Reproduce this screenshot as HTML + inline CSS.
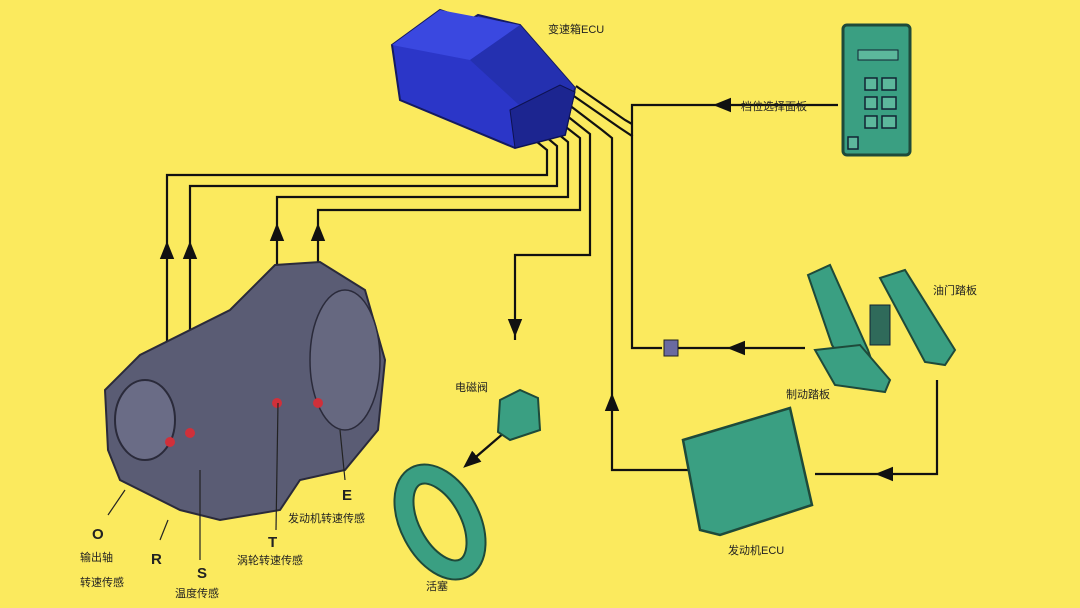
<!DOCTYPE html>
<html><head><meta charset="utf-8"><style>
html,body{margin:0;padding:0;background:#fbea5e;}
svg{display:block}
text{font-family:"Liberation Sans","Noto Sans CJK SC",sans-serif;fill:#222;}
.l{font-size:11px}
.b{font-size:15px;font-weight:bold}
</style></head><body>
<svg width="1080" height="608" viewBox="0 0 1080 608" xmlns="http://www.w3.org/2000/svg">
<rect width="1080" height="608" fill="#fbea5e"/>
<defs>
<marker id="a" viewBox="0 0 10 10" refX="5" refY="5" markerWidth="9" markerHeight="9" orient="auto-start-reverse"><path d="M0,1 L10,5 L0,9 z" fill="#111"/></marker>
</defs>
<g stroke="#111" stroke-width="2.2" fill="none">
<path d="M520,128 L547,150 L547,175 L167,175 L167,440"/>
<path d="M528,122 L557,146 L557,186 L190,186 L190,432"/>
<path d="M536,116 L568,142 L568,197 L277,197 L277,402"/>
<path d="M544,110 L580,138 L580,210 L318,210 L318,402"/>
<path d="M552,104 L590,134 L590,255 L515,255 L515,340"/>
<path d="M560,98 L602,130 L612,138 L612,470 L690,470"/>
<path d="M568,92 L620,128 L632,136 L632,348 L662,348"/>
<path d="M576,86 L625,120 L632,124"/>
<path d="M632,136 L632,105 L838,105"/>
<path d="M678,348 L805,348"/>
<path d="M937,380 L937,474 L815,474"/>
<path d="M505,432 L470,462"/>
</g>
<g stroke="#111" stroke-width="2">
<line x1="167" y1="270" x2="167" y2="250" marker-end="url(#a)"/>
<line x1="190" y1="270" x2="190" y2="250" marker-end="url(#a)"/>
<line x1="277" y1="250" x2="277" y2="232" marker-end="url(#a)"/>
<line x1="318" y1="250" x2="318" y2="232" marker-end="url(#a)"/>
<line x1="515" y1="310" x2="515" y2="328" marker-end="url(#a)"/>
<line x1="612" y1="420" x2="612" y2="402" marker-end="url(#a)"/>
<line x1="760" y1="348" x2="736" y2="348" marker-end="url(#a)"/>
<line x1="745" y1="105" x2="722" y2="105" marker-end="url(#a)"/>
<line x1="905" y1="474" x2="884" y2="474" marker-end="url(#a)"/>
<line x1="490" y1="445" x2="470" y2="462" marker-end="url(#a)"/>
</g>
<polygon points="392,45 440,10 470,20 478,15 520,25 575,88 565,135 515,148 400,100" fill="#2b36c8" stroke="#141a60" stroke-width="2"/>
<polygon points="392,45 440,10 520,25 470,60" fill="#3a48e0"/>
<polygon points="470,60 520,25 575,88 530,115" fill="#2430b0"/>
<polygon points="510,110 560,85 575,92 565,135 515,148" fill="#1c2590" stroke="#0d1250"/>
<rect x="843" y="25" width="67" height="130" rx="4" fill="#3a9f82" stroke="#1e4a3a" stroke-width="3"/>
<rect x="858" y="50" width="40" height="10" fill="#5cb89c" stroke="#123"/>
<g fill="#5cb89c" stroke="#123" stroke-width="1.5">
<rect x="865" y="78" width="12" height="12"/><rect x="882" y="78" width="14" height="12"/>
<rect x="865" y="97" width="12" height="12"/><rect x="882" y="97" width="14" height="12"/>
<rect x="865" y="116" width="12" height="12"/><rect x="882" y="116" width="14" height="12"/>
<rect x="848" y="137" width="10" height="12"/>
</g>
<path d="M105,390 L140,355 L230,310 L275,265 L320,262 L365,290 L385,360 L378,430 L345,470 L300,480 L280,510 L220,520 L180,510 L120,480 L108,450 Z" fill="#5a5c74" stroke="#2a2a3a" stroke-width="2"/>
<ellipse cx="145" cy="420" rx="30" ry="40" fill="#6a6c86" stroke="#2a2a3a" stroke-width="2"/>
<ellipse cx="345" cy="360" rx="35" ry="70" fill="#666880" stroke="#2a2a3a" stroke-width="1.5"/>
<g fill="#d0303a"><circle cx="170" cy="442" r="5"/><circle cx="190" cy="433" r="5"/><circle cx="277" cy="403" r="5"/><circle cx="318" cy="403" r="5"/></g>
<g stroke="#222" stroke-width="1.2"><line x1="340" y1="430" x2="345" y2="480"/><line x1="278" y1="403" x2="276" y2="530"/><line x1="200" y1="470" x2="200" y2="560"/><line x1="168" y1="520" x2="160" y2="540"/><line x1="125" y1="490" x2="108" y2="515"/></g>
<path d="M500,400 L520,390 L538,398 L540,430 L510,440 L498,432 Z" fill="#3a9f82" stroke="#1e4a3a" stroke-width="2"/>
<ellipse cx="440" cy="522" rx="30" ry="52" transform="rotate(-28 440 522)" fill="none" stroke="#1e4a3a" stroke-width="21"/>
<ellipse cx="440" cy="522" rx="30" ry="52" transform="rotate(-28 440 522)" fill="none" stroke="#3a9f82" stroke-width="17"/>
<polygon points="808,275 830,265 868,350 880,385 860,388 832,345" fill="#3a9f82" stroke="#1e4a3a" stroke-width="2"/>
<polygon points="815,350 860,345 890,380 885,392 835,385" fill="#3a9f82" stroke="#1e4a3a" stroke-width="2"/>
<polygon points="880,278 905,270 955,350 945,365 925,362" fill="#3a9f82" stroke="#1e4a3a" stroke-width="2"/>
<rect x="870" y="305" width="20" height="40" fill="#2f6a5a" stroke="#123"/>
<polygon points="683,440 790,408 812,505 720,535 700,530" fill="#3a9f82" stroke="#1e4a3a" stroke-width="2.5"/>
<rect x="664" y="340" width="14" height="16" fill="#6a6aa0" stroke="#222"/>
<text class="l" x="548" y="33">变速箱ECU</text>
<text class="l" x="741" y="110">档位选择面板</text>
<text class="l" x="933" y="294">油门踏板</text>
<text class="l" x="786" y="398">制动踏板</text>
<text class="l" x="455" y="391">电磁阀</text>
<text class="l" x="728" y="554">发动机ECU</text>
<text class="l" x="426" y="590">活塞</text>
<text class="b" x="342" y="500">E</text>
<text class="l" x="288" y="522">发动机转速传感</text>
<text class="b" x="268" y="547">T</text>
<text class="l" x="237" y="564">涡轮转速传感</text>
<text class="b" x="92" y="539">O</text>
<text class="l" x="80" y="561">输出轴</text>
<text class="l" x="80" y="586">转速传感</text>
<text class="b" x="151" y="564">R</text>
<text class="b" x="197" y="578">S</text>
<text class="l" x="175" y="597">温度传感</text>
</svg>
</body></html>
